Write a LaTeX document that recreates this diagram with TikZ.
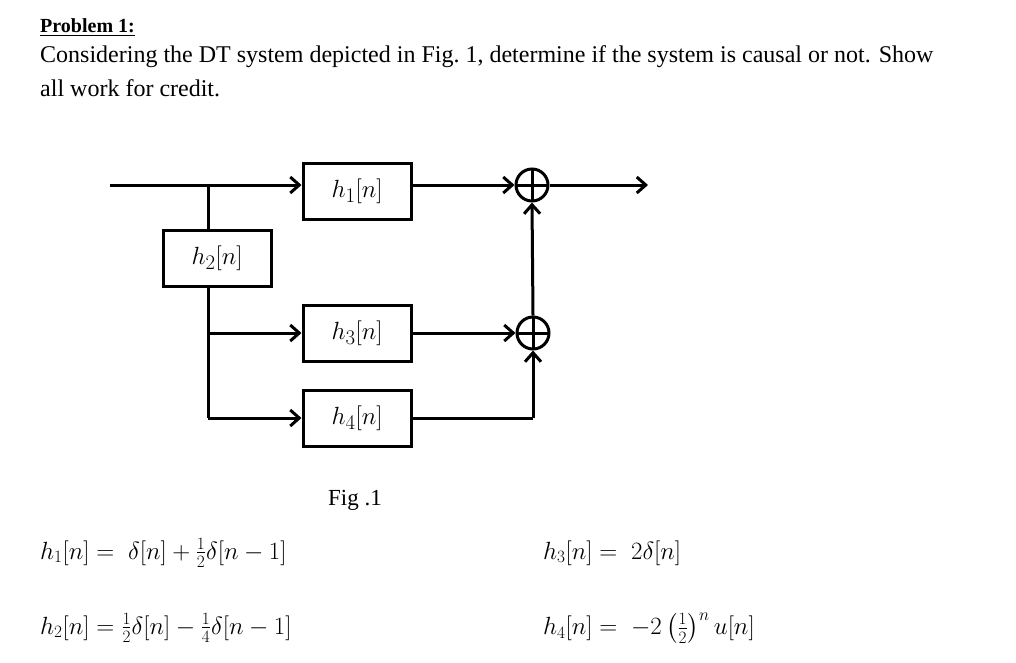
\documentclass[tikz,border=0pt]{standalone}
\usepackage{amsmath}
\usepackage{fontspec}
\setmainfont{Liberation Serif}
\usetikzlibrary{arrows.meta}
\begin{document}
\begin{tikzpicture}[x=1pt,y=-1pt,
  blk/.style={draw,line width=3pt,minimum width=108pt,minimum height=56pt,inner sep=0pt,font=\fontsize{30}{34}\selectfont},
  sum/.style={draw,circle,line width=3pt,minimum size=32pt,inner sep=0pt,path picture={\draw[line width=3pt] (path picture bounding box.north)--(path picture bounding box.south) (path picture bounding box.west)--(path picture bounding box.east);}},
  wire/.style={line width=3pt},
  arr/.style={wire,-{Straight Barb[length=9pt,width=16pt,line width=3pt]}},
  txt/.style={font=\fontsize{24}{28}\selectfont,anchor=west,inner sep=0pt},
  eq/.style={font=\fontsize{27}{30}\selectfont,anchor=west,inner sep=0pt}]
\useasboundingbox (0,0) rectangle (1016,662);
\node[txt,font=\bfseries\fontsize{20}{22}\selectfont] (title) at (40,28) {\underline{Problem 1:}};
\node[txt] (l1) at (40,57) {Considering the DT system depicted in Fig.~1, determine if the system is causal or not. Show};
\node[txt] (l2) at (40,88) {all work for credit.};
\node[blk] (h1) at (357,191) {$h_1[n]$};
\node[blk] (h2) at (217,258) {$h_2[n]$};
\node[blk] (h3) at (357,333) {$h_3[n]$};
\node[blk] (h4) at (357,418) {$h_4[n]$};
\node[sum] (s1) at (532,185) {};
\node[sum] (s2) at (533,333) {};
\coordinate (in) at (110,185);
\coordinate (br) at (208,185);
\coordinate (out) at (648,185);
\coordinate (b3) at (208,333);
\coordinate (b4) at (208,418);
\coordinate (c4) at (533,418);
\draw[arr] (in) -- (h1.west |- in);
\draw[wire] (br) -- (br |- h2.north);
\draw[arr] (h1.east |- s1) -- (s1.west);
\draw[arr] (s1.east) -- (out);
\draw[wire] (b3 |- h2.south) -- (b4);
\draw[arr] (b3) -- (h3.west);
\draw[arr] (b4) -- (h4.west);
\draw[arr] (h3.east) -- (s2.west);
\draw[wire] (h4.east) -- (c4);
\draw[arr] (c4) -- (s2.south);
\draw[arr] (s2.north) -- (s1.south);
\node[font=\fontsize{23}{26}\selectfont] (fig) at (355,500) {Fig .1};
\node[eq] (e1) at (40,553) {$h_1[n] =\ \delta[n] + \tfrac{1}{2}\delta[n-1]$};
\node[eq] (e3) at (543,553) {$h_3[n] =\ 2\delta[n]$};
\node[eq] (e2) at (40,628) {$h_2[n] = \tfrac{1}{2}\delta[n] - \tfrac{1}{4}\delta[n-1]$};
\node[eq] (e4) at (543,628) {$h_4[n] =\ -2\left(\tfrac{1}{2}\right)^{n} u[n]$};
\end{tikzpicture}
\end{document}
